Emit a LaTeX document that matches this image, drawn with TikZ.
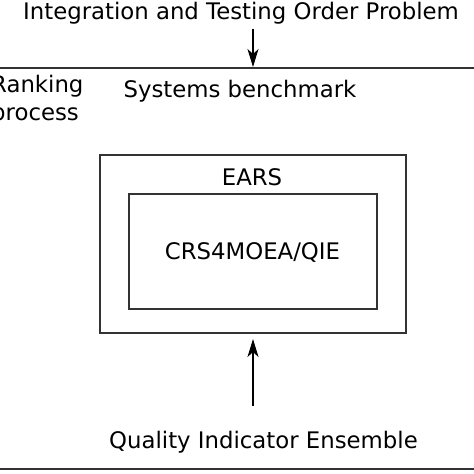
\documentclass[tikz,border=0pt]{standalone}
\usepackage{fontspec}
\setmainfont{DejaVu Sans}
\usetikzlibrary{arrows.meta}
\begin{document}
\begin{tikzpicture}[x=1pt,y=-1pt,
  lbl/.style={inner sep=0pt,font=\fontsize{22.8}{26}\selectfont,anchor=base},
  boxline/.style={draw=black!80,line width=1.6pt},
  rule/.style={draw=black!80,line width=1.6pt},
  arr/.style={draw=black,line width=1.3pt,-{Stealth[length=18pt,width=11pt,inset=5pt]}}]
\useasboundingbox (0,0) rectangle (474,474);
\node[lbl] (itop) at (241,19) {Integration and Testing Order Problem};
\coordinate (tl) at (0,68);
\coordinate (tr) at (474,68);
\draw[rule] (tl) -- (tr);
\coordinate (a1s) at (253,29);
\coordinate (a1e) at (253,67);
\draw[arr] (a1s) -- (a1e);
\node[lbl,anchor=base west] (rank) at (-9,92) {Ranking};
\node[lbl,anchor=base west] (proc) at (-9,120) {process};
\node[lbl] (sys) at (240,97) {Systems benchmark};
\node[boxline,minimum width=306pt,minimum height=178pt,inner sep=0pt] (outer) at (253,244) {};
\node[lbl] (ears) at (252,185) {EARS};
\node[boxline,minimum width=248pt,minimum height=115pt,inner sep=0pt] (inner) at (253,251.5) {};
\node[lbl] (crs) at (252.5,259) {CRS4MOEA/QIE};
\node[lbl] (qie) at (263.5,448) {Quality Indicator Ensemble};
\coordinate (a2s) at (253,406);
\coordinate (a2e) at (253,339);
\draw[arr] (a2s) -- (a2e);
\coordinate (bl) at (0,469);
\coordinate (br) at (474,469);
\draw[rule] (bl) -- (br);
\end{tikzpicture}
\end{document}
